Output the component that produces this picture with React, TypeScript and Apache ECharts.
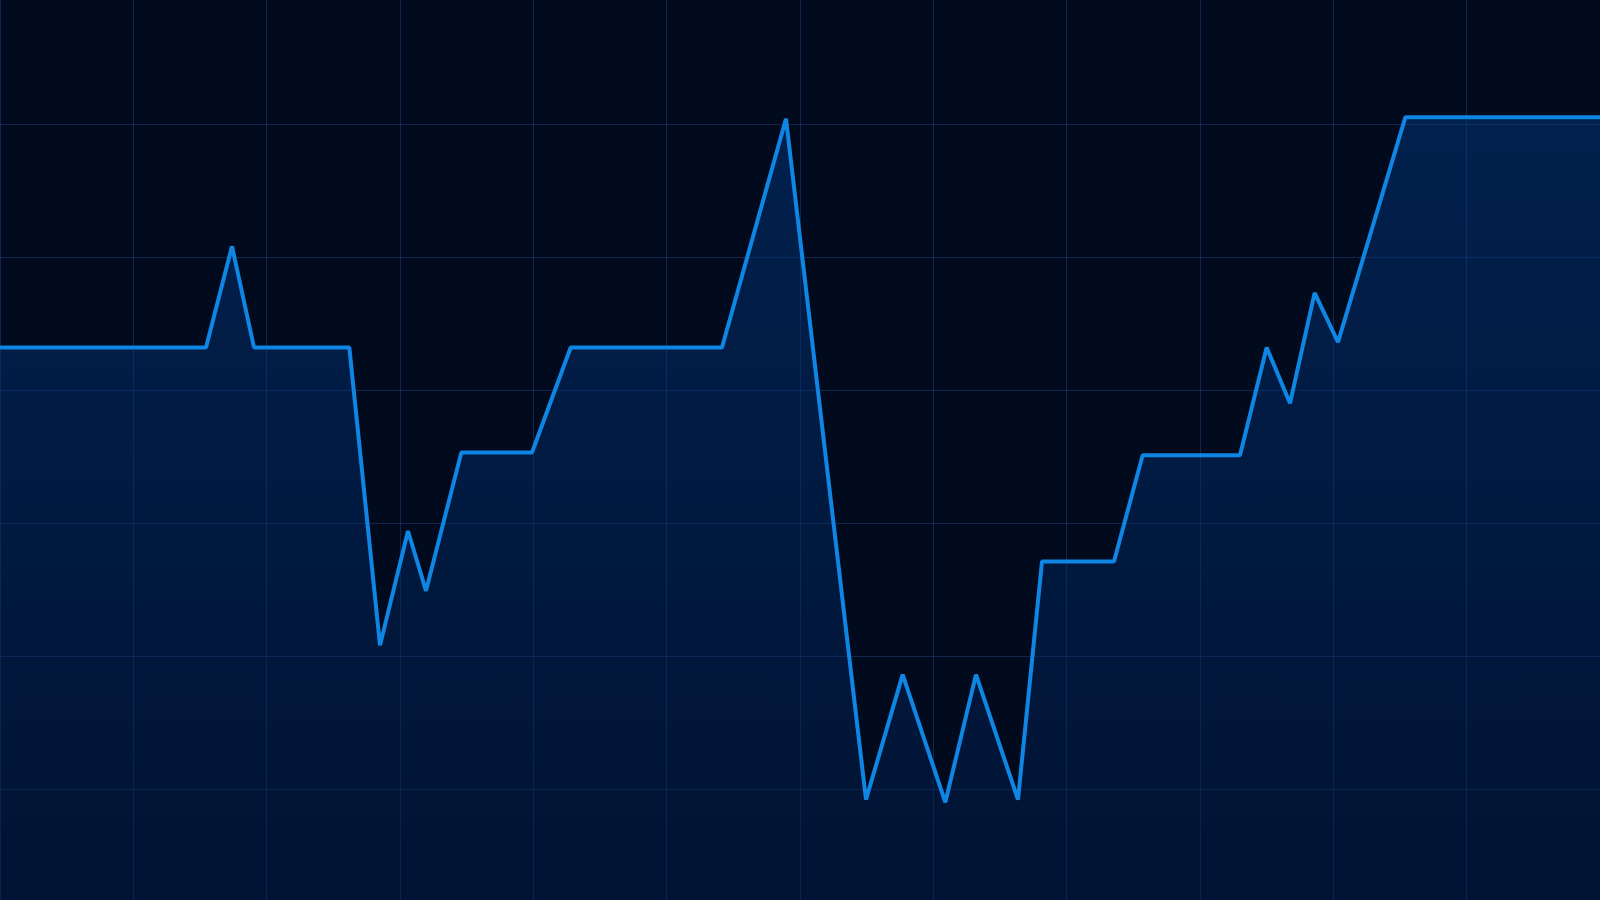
import React, { useEffect, useRef } from "react";
import * as echarts from "echarts";

// x positions (time units, 0..120) and values of the line's vertices
const xValues = [0, 15.45, 17.4, 19.05, 26.2, 28.5, 30.6, 31.95, 34.6, 39.9, 42.8, 54.15, 58.95, 64.95, 67.7, 70.9, 73.2, 76.35, 78.15, 83.55, 85.7, 93.0, 95.0, 96.75, 98.6, 100.35, 105.4, 120];
const yValues = [43.2, 43.2, 50.8, 43.2, 43.2, 20.8, 29.4, 24.9, 35.3, 35.3, 43.2, 43.2, 60.4, 9.2, 18.6, 9.0, 18.6, 9.2, 27.1, 27.1, 35.1, 35.1, 43.2, 39.0, 47.3, 43.6, 60.5, 60.5];

const xMin = 0;
const xMax = 120;
const xStep = 10;
const yMin = 0;
const yMax = 70;
const yStep = 10;

export default function App() {
  const ref = useRef<HTMLDivElement>(null);

  useEffect(() => {
    document.body.style.margin = "0";
    document.body.style.background = "#020a1c";
    document.body.style.overflow = "hidden";
    if (!ref.current) return;
    const chart = echarts.init(ref.current, undefined, { renderer: "svg" });
    const data = xValues.map((x, i) => [x, yValues[i]]);
    chart.setOption({
      animation: false,
      backgroundColor: "#020a1d",
      grid: { left: 0, right: 0, top: 0, bottom: 0, containLabel: false },
      xAxis: {
        type: "value",
        min: xMin,
        max: xMax,
        interval: xStep,
        axisLine: { show: false },
        axisTick: { show: false },
        axisLabel: { show: false },
        splitLine: { show: true, lineStyle: { color: "rgba(45,90,170,0.35)", width: 1 } },
      },
      yAxis: {
        type: "value",
        min: yMin,
        max: yMax,
        interval: yStep,
        axisLine: { show: false },
        axisTick: { show: false },
        axisLabel: { show: false },
        splitLine: { show: true, lineStyle: { color: "rgba(45,90,170,0.35)", width: 1 } },
      },
      series: [
        {
          type: "line",
          data,
          showSymbol: false,
          symbol: "none",
          lineStyle: { color: "#0f86e4", width: 4 },
          areaStyle: {
            color: new echarts.graphic.LinearGradient(0, 0, 0, 1, [
              { offset: 0, color: "rgba(0,62,140,0.62)" },
              { offset: 1, color: "rgba(0,30,80,0.6)" },
            ]),
          },
        },
      ],
    });
    return () => chart.dispose();
  }, []);

  return (
    <div
      ref={ref}
      style={{ position: "fixed", left: 0, top: "-9px", width: "1600px", height: "931px" }}
    />
  );
}
